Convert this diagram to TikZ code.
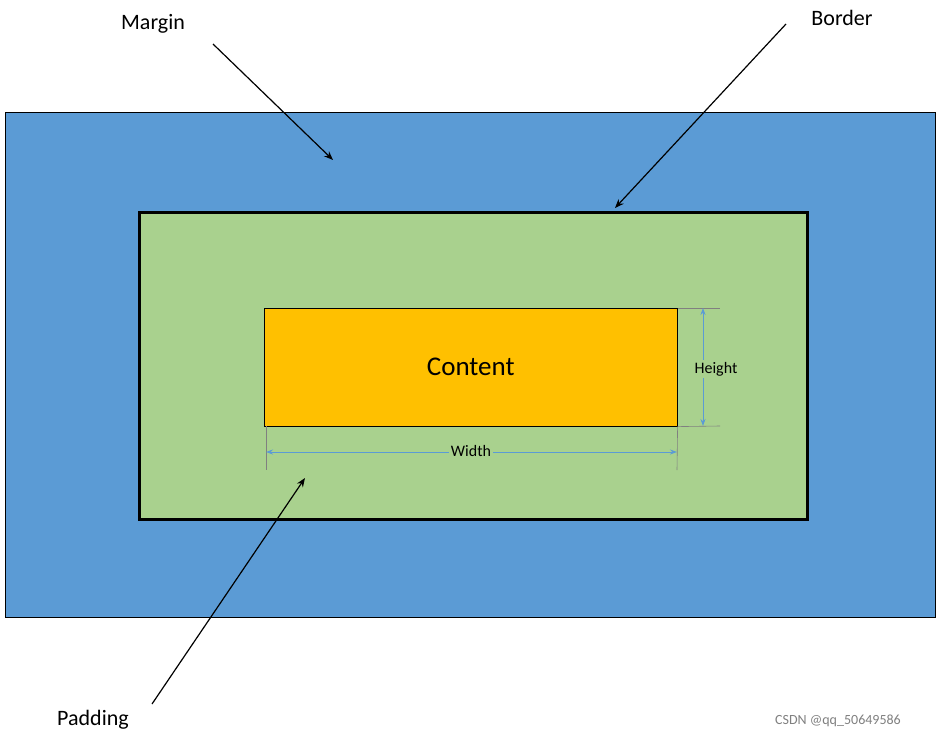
\documentclass[tikz,border=0pt]{standalone}
\usepackage{fontspec}
\setmainfont{Carlito}
\usetikzlibrary{arrows.meta}
\definecolor{mblue}{HTML}{5B9BD5}
\definecolor{pgreen}{HTML}{A9D18E}
\definecolor{corange}{HTML}{FFC000}
\definecolor{dimc}{HTML}{5B9BD5}
\begin{document}
\begin{tikzpicture}[x=1pt,y=-1pt,
  lbl/.style={font=\fontsize{22}{26}\selectfont},
  dimlbl/.style={font=\fontsize{16}{19}\selectfont, fill=pgreen, inner sep=2pt},
  callout/.style={draw=black, line width=1.2pt, -{Stealth[length=9pt,width=7pt]}},
  dimarrow/.style={draw=dimc, line width=0.9pt, {Stealth[length=7pt,width=5pt]}-{Stealth[length=7pt,width=5pt]}},
  tick/.style={draw=gray, line width=0.6pt}]
\useasboundingbox (0,0) rectangle (938,739);
\fill[white] (0,0) rectangle (938,739);
\node[draw=black, line width=0.6pt, fill=mblue, minimum width=930pt, minimum height=505pt, anchor=north west, inner sep=0] (margin) at (5,112) {};
\node[draw=black, line width=3pt, fill=pgreen, minimum width=668pt, minimum height=307pt, anchor=north west, inner sep=0] (border) at (138,211) {};
\node[draw=black, line width=0.6pt, fill=corange, minimum width=413pt, minimum height=118pt, anchor=north west, inner sep=0, font=\fontsize{27}{32}\selectfont] (content) at (264,308) {Content};
% height dimension
\coordinate (ht1) at (720,308); \coordinate (ht2) at (720,426);
\draw[tick] (content.north east) -- (ht1);
\draw[tick] (content.south east) -- (ht2);
\coordinate (ha) at (703,308); \coordinate (hb) at (703,426);
\draw[dimarrow] (ha) -- (hb);
\node[dimlbl] (hlabel) at (716,369) {Height};
% width dimension
\coordinate (wt1) at (266,470); \coordinate (wt2) at (677,470);
\draw[tick] (266,426) -- (wt1);
\draw[tick] (content.south east) -- (wt2);
\coordinate (wa) at (266,452); \coordinate (wb) at (677,452);
\draw[dimarrow] (wa) -- (wb);
\node[dimlbl] (wlabel) at (471,451) {Width};
% callouts
\node[lbl] (mtext) at (153,24) {Margin};
\node[lbl] (btext) at (842,18) {Border};
\node[lbl] (ptext) at (93,720) {Padding};
\coordinate (mt) at (333,160);
\coordinate (bt) at (615,208);
\coordinate (pt) at (305,478);
\draw[callout] (213,44) -- (mt);
\draw[callout] (786,24) -- (bt);
\draw[callout] (152,704) -- (pt);
\node[font=\fontsize{14}{16}\selectfont, text=gray] (wm) at (838,721) {CSDN @qq\_50649586};
\end{tikzpicture}
\end{document}
